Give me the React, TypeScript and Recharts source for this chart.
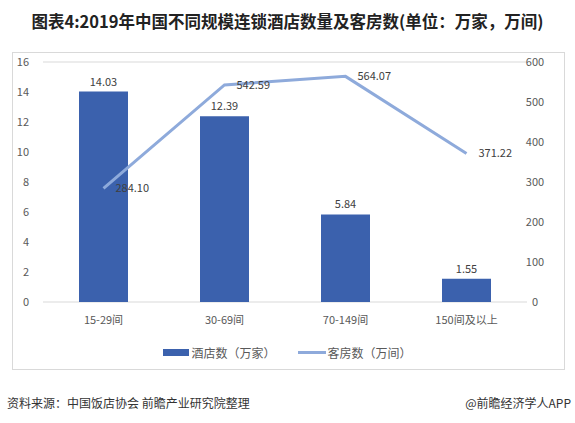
import {
  ComposedChart,
  Bar,
  Line,
  XAxis,
  YAxis,
  CartesianGrid,
  LabelList,
  Legend,
} from 'recharts';

const categories = ['15-29间', '30-69间', '70-149间', '150间及以上'];
const hotels = [14.03, 12.39, 5.84, 1.55];
const rooms = [284.1, 542.59, 564.07, 371.22];
const leftTicks = [0, 2, 4, 6, 8, 10, 12, 14, 16];
const rightTicks = [0, 100, 200, 300, 400, 500, 600];

const data = categories.map((name, i) => ({
  name,
  hotels: hotels[i],
  rooms: rooms[i],
}));

const FONT = '"Microsoft YaHei", "Noto Sans CJK SC", sans-serif';
const BAR = '#3b61ad';
const LINE = '#8eaadb';
const TEXT = '#595959';

const renderLegend = () => (
  <div
    style={{
      display: 'flex',
      justifyContent: 'center',
      alignItems: 'center',
      height: 18,
      fontSize: 12,
      color: TEXT,
      fontFamily: FONT,
    }}
  >
    <span style={{ display: 'inline-block', width: 26, height: 7, background: BAR, marginRight: 2 }} />
    <span style={{ marginRight: 22 }}>酒店数（万家）</span>
    <span style={{ display: 'inline-block', width: 28, height: 3, background: LINE, marginRight: 2 }} />
    <span>客房数（万间）</span>
  </div>
);

export default function App() {
  return (
    <div
      style={{
        position: 'fixed',
        left: 0,
        top: 0,
        width: 575,
        height: 423,
        background: '#fff',
        fontFamily: FONT,
      }}
    >
      <div
        style={{
          position: 'absolute',
          top: 9,
          width: 575,
          textAlign: 'center',
          fontSize: 16.5,
          fontWeight: 'bold',
          color: '#222',
        }}
      >
        图表4:2019年中国不同规模连锁酒店数量及客房数(单位：万家，万间)
      </div>
      <div
        style={{
          position: 'absolute',
          left: 12,
          top: 52,
          width: 553,
          height: 318,
          border: '1px solid #d9d9d9',
          boxSizing: 'border-box',
        }}
      />
      <div style={{ position: 'absolute', left: 0, top: 0 }}>
        <ComposedChart
          width={575}
          height={423}
          data={data}
          margin={{ top: 62, right: 18, bottom: 73, left: 13 }}
        >
          <CartesianGrid vertical={false} stroke="#d9d9d9" />
          <XAxis
            dataKey="name"
            axisLine={false}
            tickLine={false}
            height={30}
            tick={{ fontSize: 11, fill: TEXT, fontFamily: FONT }}
            tickMargin={8}
          />
          <YAxis
            yAxisId="left"
            width={30}
            domain={[0, 16]}
            ticks={leftTicks}
            axisLine={false}
            tickLine={false}
            tick={{ fontSize: 11, fill: TEXT, fontFamily: FONT }}
            tickMargin={8}
          />
          <YAxis
            yAxisId="right"
            orientation="right"
            width={30}
            domain={[0, 600]}
            ticks={rightTicks}
            axisLine={false}
            tickLine={false}
            tick={{ fontSize: 11, fill: TEXT, fontFamily: FONT, textAnchor: 'middle' }}
            tickMargin={2}
          />
          <Bar yAxisId="left" dataKey="hotels" fill={BAR} barSize={49} isAnimationActive={false}>
            <LabelList
              dataKey="hotels"
              position="top"
              offset={6}
              formatter={(v: number) => v.toFixed(2)}
              style={{ fontSize: 11, fill: '#404040', fontFamily: FONT }}
            />
          </Bar>
          <Line
            yAxisId="right"
            dataKey="rooms"
            stroke={LINE}
            strokeWidth={3}
            dot={false}
            type="linear"
            isAnimationActive={false}
          >
            <LabelList
              dataKey="rooms"
              position="right"
              offset={12}
              formatter={(v: number) => v.toFixed(2)}
              style={{ fontSize: 11, fill: '#404040', fontFamily: FONT }}
            />
          </Line>
          <Legend
            content={renderLegend}
            verticalAlign="bottom"
            wrapperStyle={{ top: 343, left: 0, width: 575, height: 18 }}
          />
        </ComposedChart>
      </div>
      <div
        style={{
          position: 'absolute',
          left: 7,
          top: 394,
          fontSize: 12,
          color: '#333',
        }}
      >
        资料来源：中国饭店协会 前瞻产业研究院整理
      </div>
      <div
        style={{
          position: 'absolute',
          right: 4,
          top: 394,
          fontSize: 12,
          color: '#333',
        }}
      >
        @前瞻经济学人APP
      </div>
    </div>
  );
}
